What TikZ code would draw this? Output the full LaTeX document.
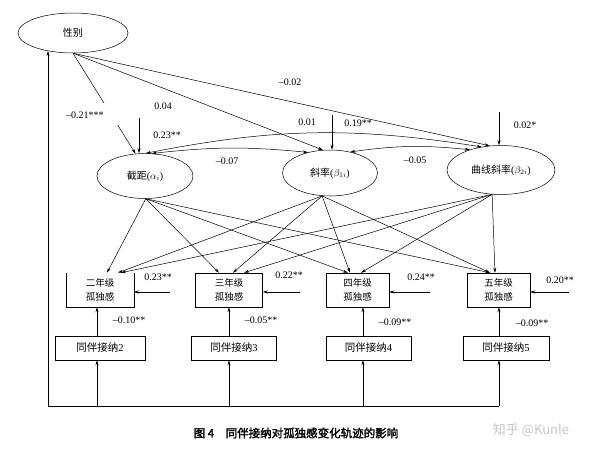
\documentclass[tikz,border=0pt]{standalone}
\usepackage{fontspec}
\setmainfont{Liberation Serif}
\newfontfamily\cjk{Noto Sans CJK SC}
\newfontfamily\cjkbold[FakeBold=2]{Noto Sans CJK SC}
\usetikzlibrary{shapes.geometric,arrows.meta}

\begin{document}
\begin{tikzpicture}[->,>={Stealth[length=5pt,width=3pt]},x=1pt,y=-1pt,line width=0.5pt]
  \tikzstyle{factor}=[ellipse,draw,inner sep=0pt,align=center]
  \tikzstyle{lonely}=[rectangle,inner sep=0pt,minimum height=34pt,align=center,font={\cjk\fontsize{9.5}{14.5}\selectfont}]
  \tikzstyle{peer}=[rectangle,draw,inner sep=0pt,minimum height=24pt,font=\fontsize{10.5}{12}\selectfont]
  \tikzstyle{coef}=[inner sep=1pt,font=\fontsize{10}{12}\selectfont]

  \useasboundingbox (0,0) rectangle (598,453);

  \node[factor,minimum width=110pt,minimum height=40pt] (sex) at (73,33) {\cjk 性别};
  \node[factor,minimum width=96pt,minimum height=45pt] (ai) at (145,176) {{\cjk 截距}($\alpha_i$)};
  \node[factor,minimum width=95pt,minimum height=46pt] (b1) at (330,173) {{\cjk 斜率}($\beta_{1i}$)};
  \node[factor,minimum width=108pt,minimum height=49pt] (b2) at (501,170) {{\cjk 曲线斜率}($\beta_{2i}$)};

  \node[lonely,minimum width=67pt] (g2) at (100,290) {二年级\\孤独感};
  \node[lonely,draw,minimum width=67pt] (g3) at (229,290) {三年级\\孤独感};
  \node[lonely,draw,minimum width=63pt] (g4) at (357.5,290) {四年级\\孤独感};
  \node[lonely,draw,minimum width=63pt] (g5) at (498.5,290) {五年级\\孤独感};
  \draw[-] (g2.north west) -- (g2.south west) -- (g2.south east) -- (g2.north east);

  \node[peer,minimum width=90pt] (p2) at (100,348) {{\cjk 同伴接纳}2};
  \node[peer,minimum width=85pt] (p3) at (234,348) {{\cjk 同伴接纳}3};
  \node[peer,minimum width=85pt] (p4) at (368.5,348) {{\cjk 同伴接纳}4};
  \node[peer,minimum width=86pt] (p5) at (506,348) {{\cjk 同伴接纳}5};

  % gender paths
  \draw (sex.south) -- node[pos=0.6,fill=white,inner sep=0pt,minimum width=16pt,minimum height=22pt]{} (ai.113);
  \draw (sex.south) -- (b1.107);
  \draw (sex.south) -- (b2.115);

  % residuals of the growth factors
  \coordinate (d1) at (139,118);
  \coordinate (d2) at (332,115);
  \coordinate (d3) at (499,112);
  \draw (d1) -- (d1 |- ai.north);
  \draw (d2) -- (d2 |- b1.north);
  \draw (d3) -- (d3 |- b2.north);

  % covariances
  \draw[<->] (ai.73) to[bend left=6] (b1.137);
  \draw[<->] (b1.46) to[bend left=7] (b2.147);
  \draw[<->] (ai.88) to[bend left=10] (b2.130);

  % growth factors to loneliness
  \foreach \f/\g/\s in {ai.272/g2/7,ai.272/g3/-10,ai.272/g4/-9.5,ai.272/g5/-8.5,
                        b1.251/g2/18,b1.251/g3/4,b1.251/g4/-7.5,b1.251/g5/-8.5,
                        b2.250/g2/21,b2.250/g3/15,b2.250/g4/3.5,b2.250/g5/-3.5}
    \draw (\f) -- ([xshift=\s pt]\g.north);

  % residuals of loneliness
  \coordinate (e2) at (170,292);
  \coordinate (e3) at (300,292);
  \coordinate (e4) at (430,292);
  \coordinate (e5) at (569,292);
  \draw (e2) -- (e2 -| g2.east);
  \draw (e3) -- (e3 -| g3.east);
  \draw (e4) -- (e4 -| g4.east);
  \draw (e5) -- (e5 -| g5.east);

  % peer acceptance
  \coordinate (base) at (48,406);
  \draw (base) -- (base |- sex.215);
  \draw[-] (base) -- ([xshift=-7pt]p5.south |- base);
  \foreach \p/\g/\s in {p2/g2/-3,p3/g3/-5,p4/g4/-5.5,p5/g5/-7} {
    \draw ([xshift=\s pt]\p.south |- base) -- ([xshift=\s pt]\p.south);
    \draw ([xshift=\s pt]\p.north) -- ([xshift=\s pt]\p.north |- \g.south);
  }

  % coefficients
  \node[coef] (k1) at (85,115) {--0.21***};
  \node[coef] (k2) at (163,106) {0.04};
  \node[coef] (k3) at (290,82) {--0.02};
  \node[coef] (k4) at (167,135) {0.23**};
  \node[coef] (k5) at (227,161) {--0.07};
  \node[coef] (k6) at (307,122) {0.01};
  \node[coef] (k7) at (358,123) {0.19**};
  \node[coef] (k8) at (415,160) {--0.05};
  \node[coef] (k9) at (525,125) {0.02*};
  \node[coef] (k10) at (158,277) {0.23**};
  \node[coef] (k11) at (289,275) {0.22**};
  \node[coef] (k12) at (421,277) {0.24**};
  \node[coef] (k13) at (560,280) {0.20**};
  \node[coef] (k14) at (129,320) {--0.10**};
  \node[coef] (k15) at (261,320) {--0.05**};
  \node[coef] (k16) at (395,322) {--0.09**};
  \node[coef] (k17) at (532,323) {--0.09**};

  \node[font={\cjkbold\fontsize{11.5}{13}\selectfont}] (cap) at (296,433) {图 4\quad 同伴接纳对孤独感变化轨迹的影响};
  \node[text=gray!45,font={\cjk\fontsize{13}{15}\selectfont}] (mark) at (531,430) {知乎 @Kunle};

\end{tikzpicture}
\end{document}
